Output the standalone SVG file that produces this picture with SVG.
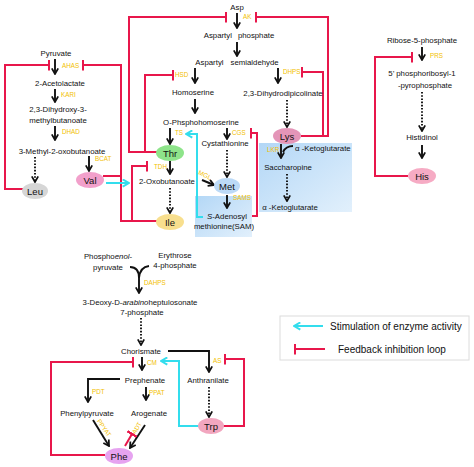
<svg xmlns="http://www.w3.org/2000/svg" width="474" height="467" viewBox="0 0 474 467">
<style>
text{font-family:"Liberation Sans",Arial,sans-serif;font-size:7.8px;fill:#111}
.c{text-anchor:middle}
.en{font-size:6.3px;fill:#f2c000}
.nd{font-size:9.5px;text-anchor:middle}
.lg{font-size:10px}
.k{fill:none;stroke:#111;stroke-width:1.9}
.d{fill:none;stroke:#111;stroke-width:1.9;stroke-dasharray:1.6 1.6}
.r{fill:none;stroke:#e8174b;stroke-width:2}
.s{fill:none;stroke:#33dded;stroke-width:2}
.i{font-style:italic}
</style>
<defs>
<marker id="ab" viewBox="0 0 10 10" refX="8.5" refY="5" markerWidth="8" markerHeight="8" markerUnits="userSpaceOnUse" orient="auto"><path d="M1.5,1 L8.5,5 L1.5,9" fill="none" stroke="#111" stroke-width="2.2"/></marker>
<marker id="as" viewBox="0 0 10 10" refX="8.5" refY="5" markerWidth="9" markerHeight="9" markerUnits="userSpaceOnUse" orient="auto"><path d="M1.5,1 L8.5,5 L1.5,9" fill="none" stroke="#33dded" stroke-width="2.2"/></marker>
<marker id="bar" viewBox="0 0 4 12" refX="2" refY="6" markerWidth="2.6" markerHeight="11" markerUnits="userSpaceOnUse" orient="auto" preserveAspectRatio="none"><rect width="4" height="12" fill="#e8174b"/></marker>
<linearGradient id="bx" x1="0" y1="0" x2="1" y2="1"><stop offset="0" stop-color="#b3d7f6"/><stop offset="1" stop-color="#e2f0fc"/></linearGradient>
</defs>

<g id="boxes">
<rect x="259" y="143" width="93" height="69" fill="url(#bx)"/>
<rect x="195" y="196" width="57" height="41" fill="url(#bx)"/>
<rect x="280" y="316" width="189" height="44" fill="#fff" stroke="#dcdcdc" stroke-width="1"/>
</g>

<g id="connectors">
<path class="k" d="M55,59 V74" marker-end="url(#ab)"/>
<path class="k" d="M55,89 V102" marker-end="url(#ab)"/>
<path class="k" d="M55,126 V140" marker-end="url(#ab)"/>
<path class="d" d="M35,157 V182" marker-end="url(#ab)"/>
<path class="k" d="M89,156 V171" marker-end="url(#ab)"/>
<path class="k" d="M237,13 V28" marker-end="url(#ab)"/>
<path class="k" d="M237,42 V56" marker-end="url(#ab)"/>
<path class="k" d="M195,68 V83" marker-end="url(#ab)"/>
<path class="k" d="M278,68 V83" marker-end="url(#ab)"/>
<path class="k" d="M195,99 V113" marker-end="url(#ab)"/>
<path class="d" d="M287,100 V127" marker-end="url(#ab)"/>
<path class="k" d="M170,128 V144" marker-end="url(#ab)"/>
<path class="k" d="M227,128 V139" marker-end="url(#ab)"/>
<path class="d" d="M227,150 V177" marker-end="url(#ab)"/>
<path class="k" d="M170,161 V174" marker-end="url(#ab)"/>
<path class="d" d="M170,188 V213" marker-end="url(#ab)"/>
<path class="k" d="M202,180 L214,185" marker-end="url(#ab)"/>
<path class="k" d="M227,195 V208" marker-end="url(#ab)"/>
<path class="k" d="M281,144 V158" marker-end="url(#ab)"/>
<path class="k" d="M293,146 Q286,146 283,152" stroke-width="1.2"/>
<path class="d" d="M287,174 V201" marker-end="url(#ab)"/>
<path class="k" d="M422,47 V60" marker-end="url(#ab)"/>
<path class="d" d="M422,92 V131" marker-end="url(#ab)"/>
<path class="k" d="M422,145 V158" marker-end="url(#ab)"/>
<path class="k" d="M130,267 Q139,267 139,278"/>
<path class="k" d="M149,266 Q140,267 139,278"/>
<path class="k" d="M139,277 V293" marker-end="url(#ab)"/>
<path class="d" d="M141,318 V345" marker-end="url(#ab)"/>
<path class="k" d="M142,357 V370" marker-end="url(#ab)"/>
<path class="k" d="M120,379 H88 V402" marker-end="url(#ab)"/>
<path class="k" d="M146,387 V400" marker-end="url(#ab)"/>
<path class="k" d="M93,420 L109,446" marker-end="url(#ab)"/>
<path class="k" d="M145,425 L130,448" marker-end="url(#ab)"/>
<path class="k" d="M168,351 H209 V372" marker-end="url(#ab)"/>
<path class="d" d="M209,387 V417" marker-end="url(#ab)"/>
<path class="r" d="M23,189 H5 V65 H49" marker-end="url(#bar)"/>
<path class="r" d="M157,221 H121 V65 H83" marker-end="url(#bar)"/>
<path class="r" d="M103,176 H121"/>
<path class="r" d="M132,221 V166 H147" marker-end="url(#bar)"/>
<path class="r" d="M157,152 H129 V17 H226" marker-end="url(#bar)"/>
<path class="r" d="M145,152 V75 H173" marker-end="url(#bar)"/>
<path class="r" d="M301,136 H328 V17 H256" marker-end="url(#bar)"/>
<path class="r" d="M323,136 V72 H302" marker-end="url(#bar)"/>
<path class="r" d="M252,216 H257 V133 H251" marker-end="url(#bar)"/>
<path class="r" d="M408,176 H375 V57 H412" marker-end="url(#bar)"/>
<path class="r" d="M105,455 H51 V362 H133" marker-end="url(#bar)"/>
<path class="r" d="M223,426 H244 V359 H225" marker-end="url(#bar)"/>
<path class="r" d="M125,446 L132,434" marker-end="url(#bar)"/>
<path class="r" d="M325,349 H295" marker-end="url(#bar)"/>
<path class="s" d="M106,183 H129" marker-end="url(#as)"/>
<path class="s" d="M203,217 H197 V134 H186" marker-end="url(#as)"/>
<path class="s" d="M199,426 H179 V361 H161" marker-end="url(#as)"/>
<path class="s" d="M323,326 H294" marker-end="url(#as)"/>
</g>

<g id="enzymes">
<text class="en" x="62" y="68">AHAS</text>
<text class="en" x="61" y="97">KARI</text>
<text class="en" x="62" y="134">DHAD</text>
<text class="en" x="95" y="161">BCAT</text>
<text class="en" x="243" y="19">AK</text>
<text class="en" x="175" y="77">HSD</text>
<text class="en" x="283" y="74">DHPS</text>
<text class="en" x="175" y="135">TS</text>
<text class="en" x="232" y="135">CGS</text>
<text class="en" x="154" y="169">TDH</text>
<text class="en" x="204" y="177" transform="rotate(25 204 177)" text-anchor="middle">MGL</text>
<text class="en" x="233" y="200">SAMS</text>
<text class="en" x="267" y="152">LKR</text>
<text class="en" x="430" y="58">PRS</text>
<text class="en" x="144" y="285">DAHPS</text>
<text class="en" x="147" y="365">CM</text>
<text class="en" x="92" y="394">PDT</text>
<text class="en" x="149" y="395">PPAT</text>
<text class="en" x="104" y="430" transform="rotate(55 104 428)" text-anchor="middle">PPYAT</text>
<text class="en" x="137" y="430" transform="rotate(-60 137 428)" text-anchor="middle">ADT</text>
<text class="en" x="213" y="363">AS</text>
</g>

<g id="metabolites">
<text class="c" x="56" y="56">Pyruvate</text>
<text class="c" x="60" y="86">2-Acetolactate</text>
<text class="c" x="58" y="112">2,3-Dihydroxy-3-</text>
<text class="c" x="58" y="123">methylbutanoate</text>
<text class="c" x="62" y="154">3-Methyl-2-oxobutanoate</text>
<text class="c" x="237" y="10">Asp</text>
<text class="c" x="239" y="38">Aspartyl<tspan dx="6">phosphate</tspan></text>
<text class="c" x="237" y="65">Aspartyl<tspan dx="7">semialdehyde</tspan></text>
<text class="c" x="193" y="95">Homoserine</text>
<text class="c" x="283" y="96">2,3-Dihydrodipicolinate</text>
<text class="c" x="201" y="125">O-Phsphohomoserine</text>
<text class="c" x="225" y="146">Cystathionine</text>
<text class="c" x="167" y="184">2-Oxobutanoate</text>
<text class="c" x="227" y="219"><tspan class="i">S</tspan>-Adenosyl</text>
<text class="c" x="224" y="229">methionine(SAM)</text>
<text x="295" y="151">α -Ketoglutarate</text>
<text class="c" x="288" y="170">Saccharopine</text>
<text class="c" x="290" y="210">α -Ketoglutarate</text>
<text class="c" x="422" y="43">Ribose-5-phosphate</text>
<text class="c" x="422" y="76">5’ phosphoribosyl-1</text>
<text class="c" x="425" y="88">-pyrophosphate</text>
<text class="c" x="422" y="140">Histidinol</text>
<text class="c" x="108" y="259">Phospho<tspan class="i">enol</tspan>-</text>
<text class="c" x="108" y="270">pyruvate</text>
<text class="c" x="175" y="258">Erythrose</text>
<text class="c" x="175" y="268">4-phosphate</text>
<text class="c" x="140" y="305">3-Deoxy-D-<tspan class="i">arabino</tspan>heptulosonate</text>
<text class="c" x="142" y="315">7-phosphate</text>
<text class="c" x="141" y="354">Chorismate</text>
<text class="c" x="145" y="383">Prephenate</text>
<text class="c" x="208" y="383">Anthranilate</text>
<text class="c" x="87" y="416">Phenylpyruvate</text>
<text class="c" x="149" y="416">Arogenate</text>
</g>

<g id="Leu"><ellipse cx="35" cy="191" rx="13" ry="8" fill="#d6d6d6"/><text class="nd" x="35" y="194.5">Leu</text></g>
<g id="Val"><ellipse cx="90" cy="180" rx="14" ry="8" fill="#f2a0cb"/><text class="nd" x="90" y="183.5">Val</text></g>
<g id="Thr"><ellipse cx="170" cy="153" rx="14" ry="8" fill="#8ee48a"/><text class="nd" x="170" y="156.5">Thr</text></g>
<g id="Ile"><ellipse cx="170" cy="222" rx="14" ry="8" fill="#f8df8e"/><text class="nd" x="170" y="225.5">Ile</text></g>
<g id="Met"><ellipse cx="227" cy="186" rx="13" ry="8" fill="#bcdaf7"/><text class="nd" x="227" y="189.5">Met</text></g>
<g id="Lys"><ellipse cx="287" cy="136" rx="14" ry="8" fill="#e495b8"/><text class="nd" x="287" y="139.5">Lys</text></g>
<g id="His"><ellipse cx="422" cy="176" rx="14" ry="8" fill="#f6abc4"/><text class="nd" x="422" y="179.5">His</text></g>
<g id="Trp"><ellipse cx="211" cy="426" rx="13" ry="8" fill="#f2a6bf"/><text class="nd" x="211" y="429.5">Trp</text></g>
<g id="Phe"><ellipse cx="119" cy="456" rx="14" ry="8" fill="#e6a3f0"/><text class="nd" x="119" y="459.5">Phe</text></g>

<g id="legend">
<text class="lg" x="330" y="329.5">Stimulation of enzyme activity</text>
<text class="lg" x="338" y="352.5">Feedback inhibition loop</text>
</g>
</svg>
